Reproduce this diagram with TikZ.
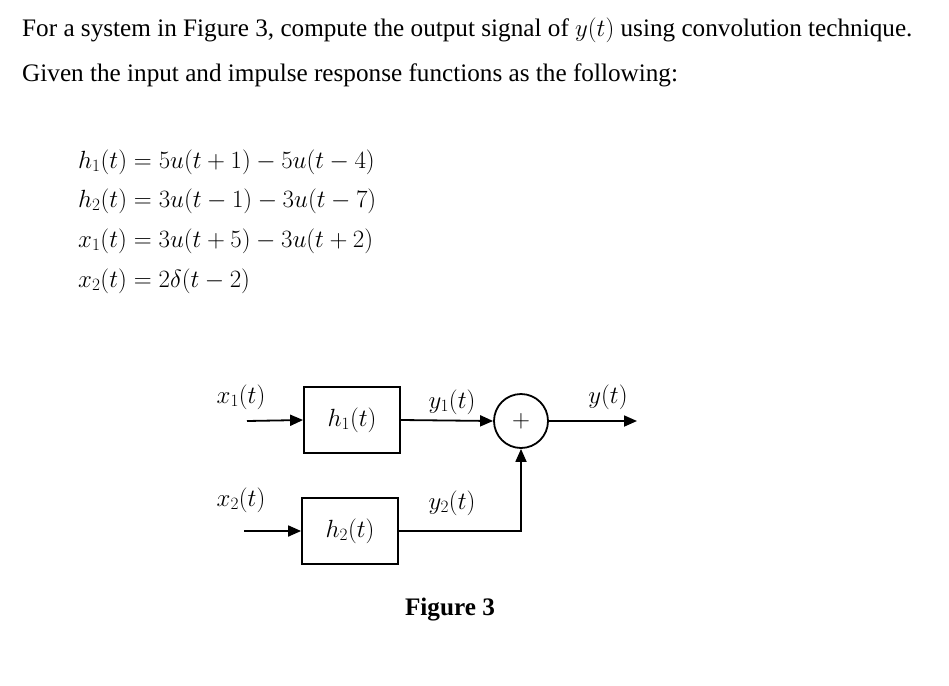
\documentclass[tikz,border=0pt]{standalone}
\usepackage{fontspec}
\setmainfont{Liberation Serif}
\usetikzlibrary{arrows.meta}
\begin{document}
\begin{tikzpicture}[x=1pt,y=-1pt,
  blk/.style={draw,line width=1.8pt,minimum width=96pt,minimum height=66pt,font=\fontsize{24}{28}\selectfont},
  lbl/.style={font=\fontsize{24}{28}\selectfont},
  txt/.style={anchor=west,inner sep=0pt,font=\fontsize{25.2}{30}\selectfont},
  eq/.style={anchor=west,inner sep=0pt,font=\fontsize{24}{28}\selectfont},
  sig/.style={line width=1.8pt,-{Triangle[length=13pt,width=11pt]}}]
\useasboundingbox (0,0) rectangle (949,685);
\node[txt] (t1) at (22,30) {For a system in Figure 3, compute the output signal of $y(t)$ using convolution technique.};
\node[txt] (t2) at (22,75) {Given the input and impulse response functions as the following:};
\node[eq] (e1) at (78,162) {$h_1(t) = 5u(t+1) - 5u(t-4)$};
\node[eq] (e2) at (78,201) {$h_2(t) = 3u(t-1) - 3u(t-7)$};
\node[eq] (e3) at (78,241) {$x_1(t) = 3u(t+5) - 3u(t+2)$};
\node[eq] (e4) at (78,281) {$x_2(t) = 2\delta(t-2)$};
\node[blk] (h1) at (352,420) {$h_1(t)$};
\node[blk] (h2) at (350,531) {$h_2(t)$};
\node[draw,circle,line width=1.8pt,minimum size=54pt,inner sep=0pt,font=\fontsize{24}{28}\selectfont] (s) at (521,421) {$+$};
\coordinate (x1s) at (247,421);
\coordinate (x2s) at (244,531);
\coordinate (ye) at (637,421);
\draw[sig] (x1s) -- (h1.west);
\draw[sig] (x2s) -- (h2.west);
\draw[sig] (h1.east) -- (s.west);
\draw[sig] (h2.east) -| (s.south);
\draw[sig] (s.east) -- (ye);
\node[lbl] (lx1) at (241,397) {$x_1(t)$};
\node[lbl] (lx2) at (241,500) {$x_2(t)$};
\node[lbl] (ly1) at (452,402) {$y_1(t)$};
\node[lbl] (ly2) at (452,503) {$y_2(t)$};
\node[lbl] (ly) at (608,397) {$y(t)$};
\node[font=\fontsize{25.2}{30}\selectfont\bfseries] (fig) at (450,610) {Figure 3};
\end{tikzpicture}
\end{document}
